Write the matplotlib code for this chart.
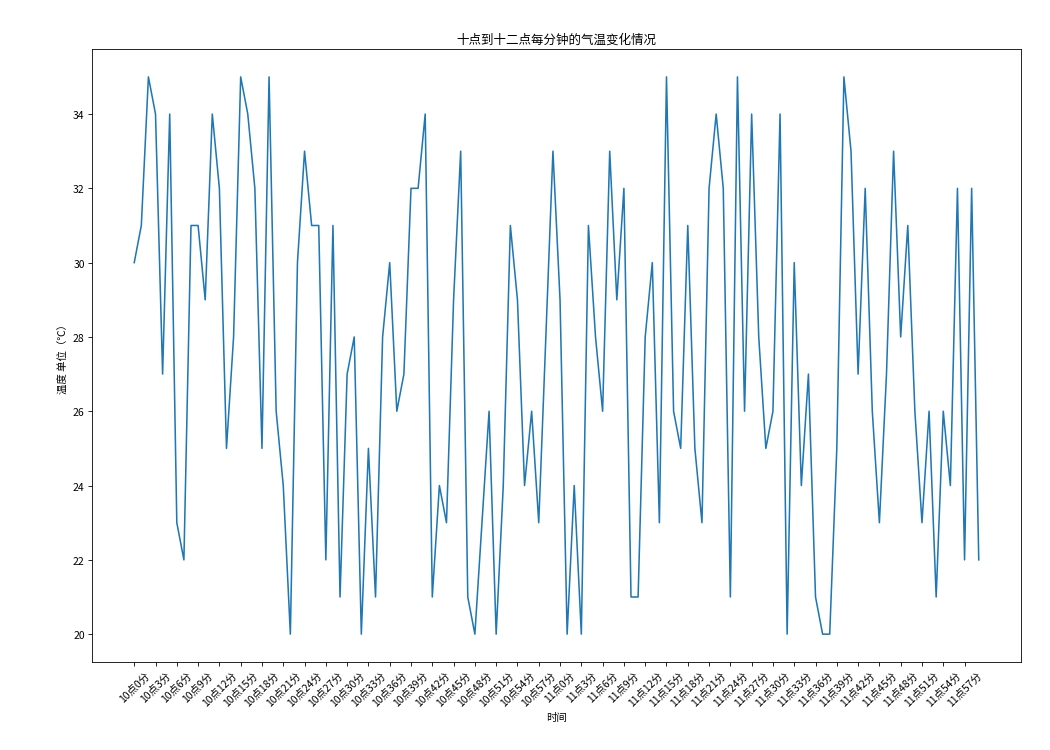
import matplotlib.pyplot as plt

plt.rcParams['font.family'] = ['Noto Sans CJK SC', 'DejaVu Sans']

temps = [30, 31, 35, 34, 27, 34, 23, 22, 31, 31, 29, 34, 32, 25, 28, 35, 34, 32, 25, 35,
         26, 24, 20, 30, 33, 31, 31, 22, 31, 21, 27, 28, 20, 25, 21, 28, 30, 26, 27, 32,
         32, 34, 21, 24, 23, 29, 33, 21, 20, 23, 26, 20, 24, 31, 29, 24, 26, 23, 28, 33,
         29, 20, 24, 20, 31, 28, 26, 33, 29, 32, 21, 21, 28, 30, 23, 35, 26, 25, 31, 25,
         23, 32, 34, 32, 21, 35, 26, 34, 28, 25, 26, 34, 20, 30, 24, 27, 21, 20, 20, 25,
         35, 33, 27, 32, 26, 23, 27, 33, 28, 31, 26, 23, 26, 21, 26, 24, 32, 22, 32, 22]
minutes = list(range(len(temps)))
labels = ["10点{}分".format(i) for i in range(60)] + ["11点{}分".format(i) for i in range(60)]

fig = plt.figure(figsize=(14.013, 10.013), dpi=75)
ax = fig.add_axes([92 / 1051, 1 - 663 / 751, 929 / 1051, 613 / 751])
ax.plot(minutes, temps)
ax.set_xticks(minutes[::3])
ax.set_xticklabels(labels[::3], rotation=45)
ax.set_xlabel("时间")
ax.set_ylabel("温度 单位（℃）")
ax.set_title("十点到十二点每分钟的气温变化情况")
fig.savefig("out.png", dpi=75)
